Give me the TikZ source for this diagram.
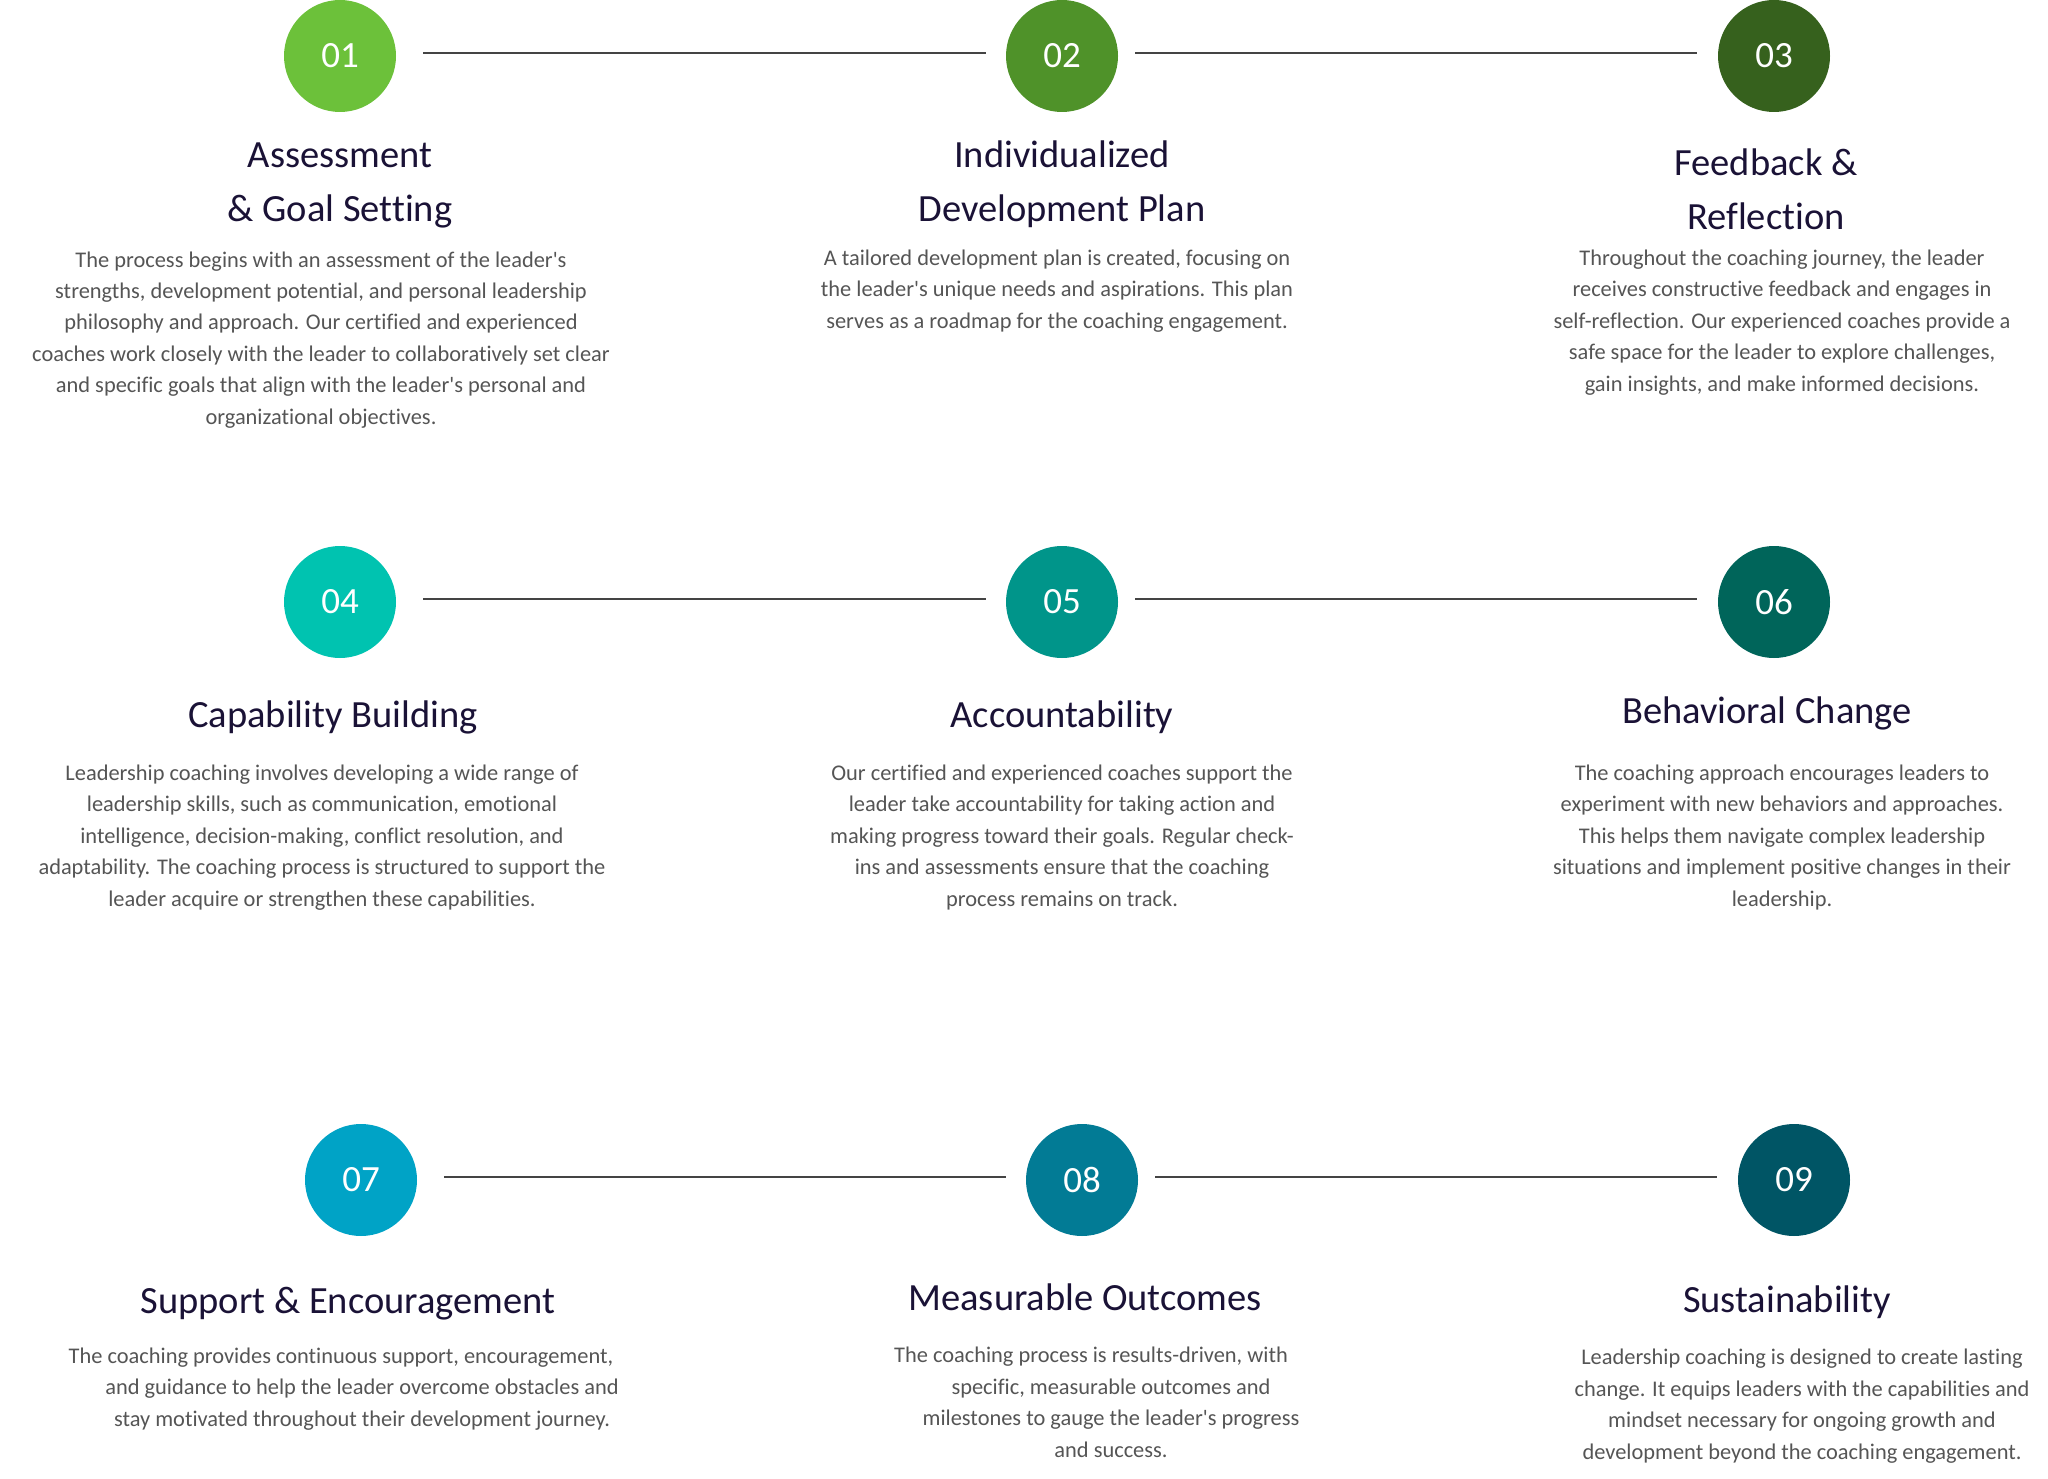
\documentclass[tikz,border=0pt]{standalone}
\usepackage{fontspec}
\setmainfont{Carlito}[Ligatures={TeXOff,NoCommon}]
\definecolor{cA}{HTML}{6CC13A}
\definecolor{cB}{HTML}{4F9229}
\definecolor{cC}{HTML}{36611D}
\definecolor{cD}{HTML}{00C3B0}
\definecolor{cE}{HTML}{00958A}
\definecolor{cF}{HTML}{00655A}
\definecolor{cG}{HTML}{00A3C6}
\definecolor{cH}{HTML}{027B95}
\definecolor{cI}{HTML}{005565}
\definecolor{titlecol}{HTML}{1A1236}
\definecolor{bodycol}{HTML}{555555}
\definecolor{linecol}{HTML}{444444}
\begin{document}
\begin{tikzpicture}[x=1pt,y=-1pt,
  num/.style={circle,minimum size=112pt,inner sep=0pt,text=white,font=\fontsize{37}{37}\selectfont},
  ttl/.style={anchor=base,align=center,text=titlecol,font=\fontsize{38.5}{54}\selectfont,inner sep=0pt},
  bdy/.style={anchor=base,align=center,text=bodycol,font=\fontsize{22.4}{31.4}\selectfont,inner sep=0pt},
  conn/.style={draw=linecol,line width=2.6pt}]
\useasboundingbox[fill=white] (0,0) rectangle (2048,1479);

% circles
\node[num,fill=cA] (c1) at (340,56) {01};
\node[num,fill=cB] (c2) at (1062,56) {02};
\node[num,fill=cC] (c3) at (1774,56) {03};
\node[num,fill=cD] (c4) at (340,602) {04};
\node[num,fill=cE] (c5) at (1062,602) {05};
\node[num,fill=cF] (c6) at (1774,602) {06};
\node[num,fill=cG] (c7) at (361,1180) {07};
\node[num,fill=cH] (c8) at (1082,1180) {08};
\node[num,fill=cI] (c9) at (1794,1180) {09};

% connectors
\foreach \a/\b in {c1/c2,c4/c5,c7/c8}{
  \draw[conn] ([xshift=27pt,yshift=3pt]\a.east) -- ([xshift=-20pt,yshift=3pt]\b.west);
}
\foreach \a/\b in {c2/c3,c5/c6,c8/c9}{
  \draw[conn] ([xshift=17pt,yshift=3pt]\a.east) -- ([xshift=-21pt,yshift=3pt]\b.west);
}

% titles (anchor = baseline of last line)
\node[ttl] (t1) at (340,222) {Assessment\\\& Goal Setting};
\node[ttl] (t2) at (1062,222) {Individualized\\Development Plan};
\node[ttl] (t3) at (1766,230) {Feedback \&\\Reflection};
\node[ttl] (t4) at (333,727) {Capability Building};
\node[ttl] (t5) at (1062,727) {Accountability};
\node[ttl] (t6) at (1767,723) {Behavioral Change};
\node[ttl] (t7) at (348,1313) {Support \& Encouragement};
\node[ttl] (t8) at (1085,1310) {Measurable Outcomes};
\node[ttl] (t9) at (1787,1312) {Sustainability};

% bodies (anchor = baseline of last line)
\node[bdy] (b1) at (321,424) {The process begins with an assessment of the leader's\\
strengths, development potential, and personal leadership\\
philosophy and approach. Our certified and experienced\\
coaches work closely with the leader to collaboratively set clear\\
and specific goals that align with the leader's personal and\\
organizational objectives.};
\node[bdy] (b2) at (1057,328) {A tailored development plan is created, focusing on\\
the leader's unique needs and aspirations. This plan\\
serves as a roadmap for the coaching engagement.};
\node[bdy] (b3) at (1782,391) {Throughout the coaching journey, the leader\\
receives constructive feedback and engages in\\
self-reflection. Our experienced coaches provide a\\
safe space for the leader to explore challenges,\\
gain insights, and make informed decisions.};
\node[bdy] (b4) at (322,906) {Leadership coaching involves developing a wide range of\\
leadership skills, such as communication, emotional\\
intelligence, decision-making, conflict resolution, and\\
adaptability. The coaching process is structured to support the\\
leader acquire or strengthen these capabilities.};
\node[bdy] (b5) at (1062,906) {Our certified and experienced coaches support the\\
leader take accountability for taking action and\\
making progress toward their goals. Regular check-\\
ins and assessments ensure that the coaching\\
process remains on track.};
\node[bdy] (b6) at (1782,906) {The coaching approach encourages leaders to\\
experiment with new behaviors and approaches.\\
This helps them navigate complex leadership\\
situations and implement positive changes in their\\
leadership.};
\node[bdy] (b7) at (362,1426) {The coaching provides continuous support, encouragement,\rule{42pt}{0pt}\\
and guidance to help the leader overcome obstacles and\\
stay motivated throughout their development journey.};
\node[bdy] (b8) at (1111,1457) {The coaching process is results-driven, with\rule{40pt}{0pt}\\
specific, measurable outcomes and\\
milestones to gauge the leader's progress\\
and success.};
\node[bdy] (b9) at (1802,1459) {Leadership coaching is designed to create lasting\\
change. It equips leaders with the capabilities and\\
mindset necessary for ongoing growth and\\
development beyond the coaching engagement.};
\end{tikzpicture}
\end{document}
